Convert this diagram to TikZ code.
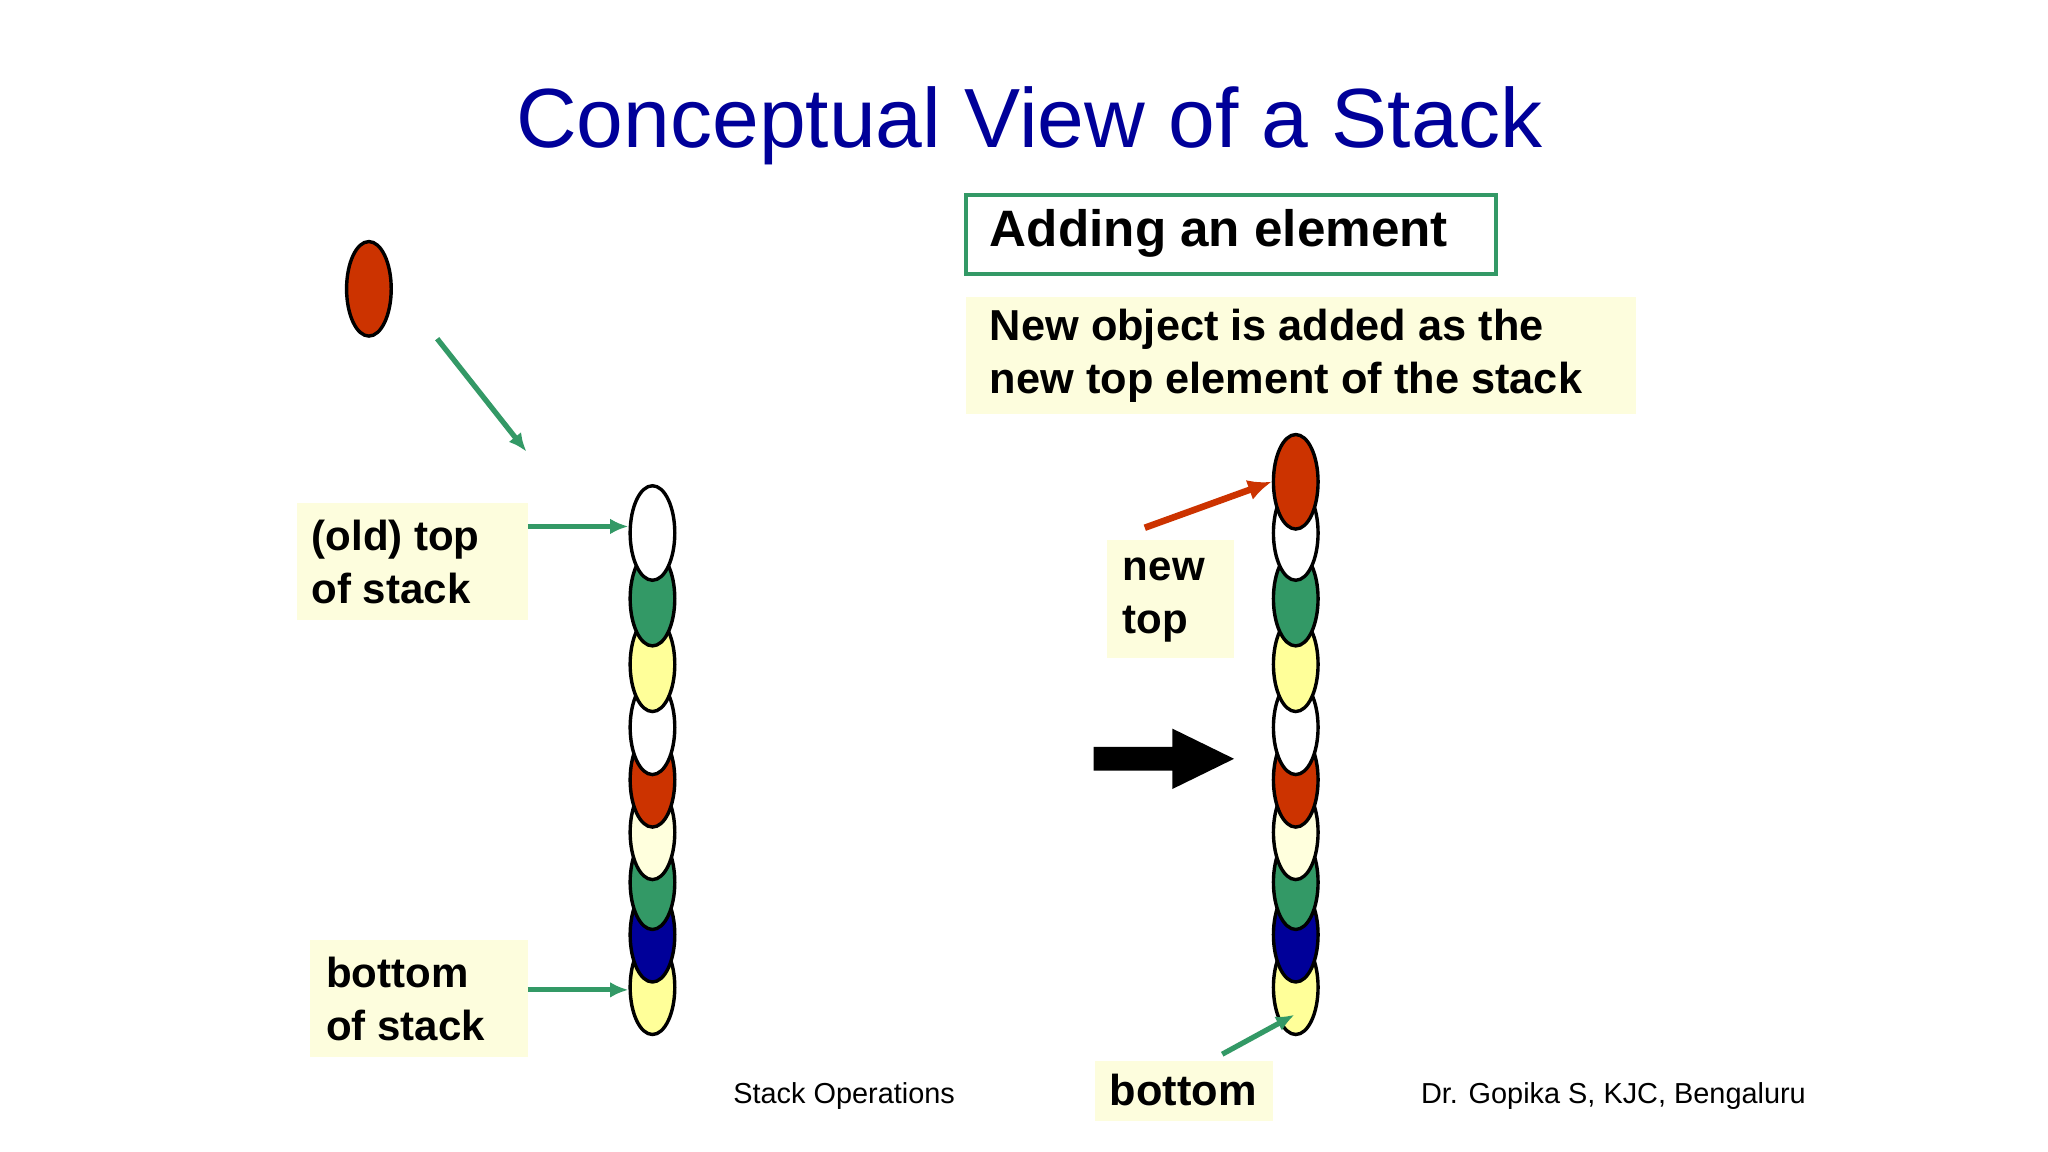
\documentclass[tikz,border=0pt]{standalone}
\usepackage{fontspec}
\setmainfont{Liberation Sans}
\begin{document}
\begin{tikzpicture}[x=0.5pt,y=-0.5pt,
  lbl/.style={fill=lemon,inner sep=0pt,font=\fontsize{16}{20}\selectfont\bfseries,align=left},
  ga/.style={draw=sgreen,line width=2pt,-{Latex[length=7pt,width=6pt]}},
  bead/.style={ellipse,draw=black,line width=1.3pt,minimum width=17pt,minimum height=36pt,inner sep=0pt}]
\definecolor{lemon}{RGB}{253,253,221}
\definecolor{sgreen}{RGB}{51,153,102}
\definecolor{bred}{RGB}{204,51,0}
\definecolor{bgreen}{RGB}{51,153,102}
\definecolor{byel}{RGB}{255,255,153}
\definecolor{bcream}{RGB}{255,255,221}
\definecolor{bblue}{RGB}{0,0,153}
\definecolor{ttl}{RGB}{0,0,153}
\usetikzlibrary{shapes.geometric,arrows.meta}
\fill[white] (0,0) rectangle (1560,877.5);
\useasboundingbox (0,0) rectangle (1560,877.5);
\node[font=\fontsize{32}{38}\selectfont,text=ttl] (title) at (784,96) {Conceptual View of a Stack};
\node[draw=sgreen,line width=1.5pt,fill=white,minimum width=202pt,minimum height=30pt,anchor=north west] (add) at (734,147) {};
\node[anchor=west,font=\fontsize{19.5}{22}\selectfont\bfseries] (addt) at (747,178) {Adding an element};
\fill[lemon] (736,226) rectangle (1246,315);
\node[anchor=west,font=\fontsize{16.5}{20}\selectfont\bfseries,align=left] (newobj) at (747,271) {New object is added as the\\new top element of the stack};
% left
\node[bead,fill=bred] (lone) at (281,220) {};
\coordinate (la) at (333,258); \coordinate (lb) at (401,344);
\draw[ga] (la) -- (lb);
\foreach \y/\c [count=\i] in {752/byel,712/bblue,672/bgreen,634/bcream,594/bred,554/white,506/byel,456/bgreen,406/white}
  \node[bead,fill=\c] (L\i) at (497,\y) {};
\foreach \y/\c [count=\i] in {752/byel,712/bblue,672/bgreen,634/bcream,594/bred,554/white,506/byel,456/bgreen,406/white,367/bred}
  \node[bead,fill=\c] (R\i) at (987,\y) {};
\fill[lemon] (226,383) rectangle (402,472);
\node[lbl,anchor=west] (old) at (237,428) {(old) top\\of stack};
\fill[lemon] (236,716) rectangle (402,805);
\node[lbl,anchor=west] (bos) at (248,761) {bottom\\of stack};
\coordinate (oe) at (402,401); \coordinate (be) at (402,754);
\draw[ga] (oe) -- (oe -| L9.west);
\draw[ga] (be) -- (be -| L1.west);
% right
\fill[lemon] (843,411) rectangle (940,501);
\node[lbl,anchor=west] (nt) at (855,457) {new\\top};
\fill[lemon] (834,808) rectangle (970,854);
\node[lbl,anchor=west,font=\fontsize{16.5}{20}\selectfont\bfseries] (bot) at (845,830) {bottom};
\coordinate (rs) at (872,402);
\draw[draw=bred,line width=2.5pt,-{Latex[length=9pt,width=8pt]}] (rs) -- (R10.west);
\coordinate (gs) at (931,803); \coordinate (ge) at (986,773);
\draw[ga] (gs) -- (ge);
\fill[black] (833,569) -- (893,569) -- (893,555) -- (940,578) -- (893,601) -- (893,587) -- (833,587) -- cycle;
\node[font=\fontsize{11}{13}\selectfont] (f1) at (643,835) {Stack Operations};
\node[font=\fontsize{11}{13}\selectfont] (f2) at (1229,835) {Dr. Gopika S, KJC, Bengaluru};
\end{tikzpicture}
\end{document}
